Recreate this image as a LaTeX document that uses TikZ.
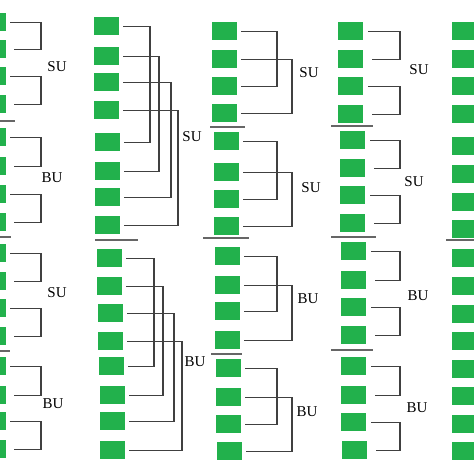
\documentclass[tikz,border=0pt]{standalone}
\usepackage{fontspec}
\setmainfont{Liberation Serif}
\definecolor{boxgreen}{HTML}{22B14C}
\definecolor{wirecol}{HTML}{404040}
\begin{document}
\begin{tikzpicture}[x=1pt,y=-1pt,
  cell/.style={rectangle,fill=boxgreen,minimum width=25pt,minimum height=18pt,inner sep=0pt,anchor=north west},
  wire/.style={draw=wirecol,line width=1.1pt},
  sepline/.style={draw=wirecol!80,line width=1.1pt},
  lab/.style={font=\fontsize{15}{15}\selectfont,inner sep=0pt,text=black}]
\useasboundingbox (0,0) rectangle (474,474);
\clip (0,0) rectangle (474,474);
% column 0
\foreach \r/\y in {1/13,2/40,3/67,4/95,5/128,6/157,7/185,8/213,9/244,10/272,11/299,12/327,13/357,14/386,15/412,16/440}
  \node[cell] (a\r) at (-19,\y) {};
% column 1
\foreach \r/\x/\y in {1/94/17,2/94/47,3/94/73,4/94/101,5/95/133,6/95/162,7/95/188,8/95/216,9/97/249,10/97/277,11/98/304,12/98/332,13/99/357,14/100/386,15/100/412,16/100/441}
  \node[cell] (b\r) at (\x,\y) {};
% column 2
\foreach \r/\x/\y in {1/212/22,2/212/50,3/212/77,4/212/104,5/214/132,6/214/163,7/214/190,8/214/217,9/215/247,10/215/276,11/215/302,12/215/331,13/216/359,14/216/388,15/216/415,16/217/442}
  \node[cell] (c\r) at (\x,\y) {};
% column 3
\foreach \r/\x/\y in {1/338/22,2/338/50,3/338/77,4/338/105,5/340/131,6/340/159,7/340/186,8/340/214,9/341/242,10/341/271,11/341/298,12/341/326,13/341/357,14/341/386,15/341/413,16/342/441}
  \node[cell] (d\r) at (\x,\y) {};
% column 4
\foreach \r/\y in {1/22,2/50,3/77,4/105,5/137,6/165,7/193,8/220,9/249,10/277,11/305,12/332,13/360,14/387,15/415,16/442}
  \node[cell] (e\r) at (452,\y) {};
% separators
\draw[sepline] (0,121) -- (15,121);
\draw[sepline] (0,237) -- (11,237);
\draw[sepline] (0,351) -- (10,351);
\draw[sepline] (95,240) -- (138,240);
\draw[sepline] (210,127) -- (245,127);
\draw[sepline] (203,238) -- (249,238);
\draw[sepline] (211,354) -- (242,354);
\draw[sepline] (331,126) -- (373,126);
\draw[sepline] (331,237) -- (376,237);
\draw[sepline] (331,350) -- (373,350);
\draw[sepline] (446,240) -- (474,240);
% bracket x positions
\coordinate (ka) at (41,0);
\coordinate (kb1) at (150,0);
\coordinate (kb2) at (159,0);
\coordinate (kb3) at (171,0);
\coordinate (kb4) at (178,0);
\coordinate (kb5) at (154,0);
\coordinate (kb6) at (163,0);
\coordinate (kb7) at (174,0);
\coordinate (kb8) at (182,0);
\coordinate (kc1) at (277,0);
\coordinate (kc2) at (292,0);
\coordinate (kd) at (400,0);
% column 0 brackets
\foreach \p/\q in {1/2,3/4,5/6,7/8,9/10,11/12,13/14,15/16}
  \draw[wire] ([xshift=4pt]a\p.east) -- (a\p.east -| ka) -- (a\q.east -| ka) -- ([xshift=8pt]a\q.east);
% column 1 brackets
\foreach \p/\q/\k in {1/5/kb1,2/6/kb2,3/7/kb3,4/8/kb4,9/13/kb5,10/14/kb6,11/15/kb7,12/16/kb8}
  \draw[wire] ([xshift=4pt]b\p.east) -- (b\p.east -| \k) -- (b\q.east -| \k) -- ([xshift=4pt]b\q.east);
% column 2 brackets
\foreach \p/\q/\k in {1/3/kc1,2/4/kc2,5/7/kc1,6/8/kc2,9/11/kc1,10/12/kc2,13/15/kc1,14/16/kc2}
  \draw[wire] ([xshift=4pt]c\p.east) -- (c\p.east -| \k) -- (c\q.east -| \k) -- ([xshift=4pt]c\q.east);
% column 3 brackets
\foreach \p/\q in {1/2,3/4,5/6,7/8,9/10,11/12,13/14,15/16}
  \draw[wire] ([xshift=5pt]d\p.east) -- (d\p.east -| kd) -- (d\q.east -| kd) -- ([xshift=9pt]d\q.east);
% labels
\node[lab] (s1) at (57,67) {SU};
\node[lab] (s2) at (52,178) {BU};
\node[lab] (s3) at (57,293) {SU};
\node[lab] (s4) at (53,404) {BU};
\node[lab] (s5) at (192,137) {SU};
\node[lab] (s6) at (195,362) {BU};
\node[lab] (s7) at (309,73) {SU};
\node[lab] (s8) at (311,188) {SU};
\node[lab] (s9) at (308,299) {BU};
\node[lab] (s10) at (307,412) {BU};
\node[lab] (s11) at (419,70) {SU};
\node[lab] (s12) at (414,182) {SU};
\node[lab] (s13) at (418,296) {BU};
\node[lab] (s14) at (417,408) {BU};
\end{tikzpicture}
\end{document}
